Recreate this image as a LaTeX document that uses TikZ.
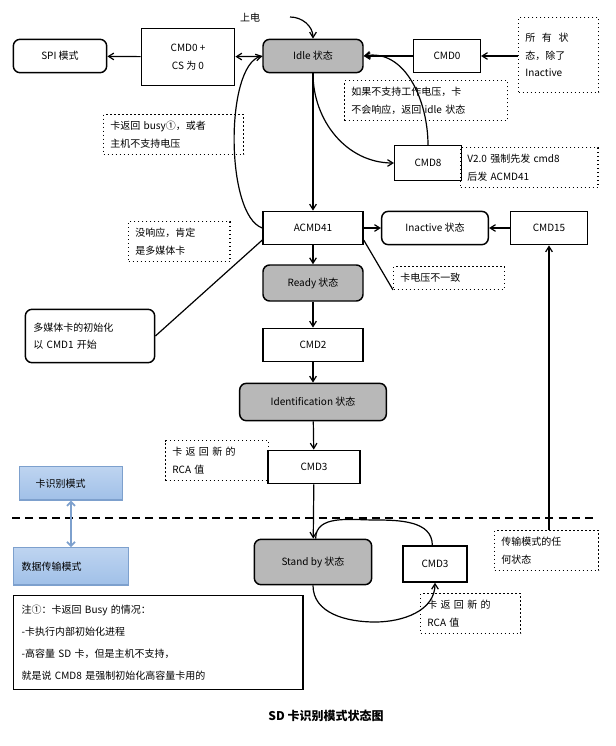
\documentclass[tikz,border=0pt]{standalone}
\usepackage{fontspec}
\setmainfont{Noto Sans CJK SC}
\usetikzlibrary{arrows.meta}
\definecolor{bfill}{RGB}{190,212,240}
\definecolor{bfill2}{RGB}{160,192,232}
\definecolor{bdraw}{RGB}{125,160,205}
\begin{document}
\begin{tikzpicture}[x=0.75pt,y=-0.75pt,font=\fontsize{7.5}{13}\selectfont,
  >={Straight Barb[length=4pt,width=5pt]},
  box/.style={draw,line width=1.1pt,inner sep=0,align=center},
  st/.style={box,rounded corners=5pt},
  gray/.style={st,fill=black!28},
  note/.style={draw,dotted,line width=1pt,inner sep=5pt,align=left,anchor=north west},
  blue/.style={draw=bdraw,line width=1pt,top color=bfill,bottom color=bfill2,inner xsep=6pt,inner ysep=0,anchor=north west,align=left},
  ln/.style={line width=0.9pt}]
\useasboundingbox (0,0) rectangle (615,746);
\node (pw) at (250,18) {上电};
\coordinate (pws) at (290,17);
\node[st,minimum width=70pt,minimum height=25pt] (spi) at (60,56) {SPI 模式};
\node[box,minimum width=70pt,minimum height=43pt] (cs) at (188,57) {CMD0 +\\CS 为 0};
\node[gray,minimum width=75pt,minimum height=25pt] (idle) at (313,56) {Idle 状态};
\node[box,minimum width=50pt,minimum height=25pt] (c0) at (447,56) {CMD0};
\node[note,text width=50pt,minimum height=56pt] (n1) at (518,17) {所\ \ 有\ \ 状\\态，除了\\Inactive};
\node[note,text width=112pt] (n2) at (344,80) {如果不支持工作电压，卡\\不会响应，返回 idle 状态};
\node[note,text width=95pt] (n3) at (103,114) {卡返回 busy①，或者\\主机不支持电压};
\node[box,minimum width=50pt,minimum height=26pt] (c8) at (428,163) {CMD8};
\node[note,text width=93pt] (n4) at (460,147) {V2.0 强制先发 cmd8\\后发 ACMD41};
\node[box,minimum width=75pt,minimum height=25pt] (a41) at (313,228) {ACMD41};
\node[st,minimum width=80pt,minimum height=25pt] (ina) at (435,228) {Inactive 状态};
\node[box,minimum width=58pt,minimum height=25pt] (c15) at (549,228) {CMD15};
\node[note,text width=66pt] (n5) at (128,221) {没响应，肯定\\是多媒体卡};
\node[note,text width=73pt] (n6) at (393,266) {卡电压不一致};
\node[gray,minimum width=75pt,minimum height=27pt] (rdy) at (313,283) {Ready 状态};
\node[st,minimum width=97pt,minimum height=40pt,text width=85pt,align=left] (mm) at (90,336) {多媒体卡的初始化\\以 CMD1 开始};
\node[box,minimum width=75pt,minimum height=25pt] (c2) at (313,345) {CMD2};
\node[gray,minimum width=110pt,minimum height=28pt] (idf) at (313,402) {Identification 状态};
\node[note,text width=67pt] (n7) at (165,440) {卡\ 返\ 回\ 新\ 的\\RCA 值};
\node[box,minimum width=69pt,minimum height=25pt] (c3) at (314,467) {CMD3};
\node[blue,text width=65pt,minimum height=25pt] (b1) at (19,466) {\hspace{6pt}卡识别模式};
\node[blue,text width=74pt,minimum height=28pt] (b2) at (13,547) {数据传输模式};
\draw[line width=1pt,dash pattern=on 6pt off 4pt] (12,518) -- (598,518);
\draw[{Straight Barb[length=3pt]}-{Straight Barb[length=3pt]},bdraw,line width=1.3pt] (b1.south -| 71,0) -- (b2.north -| 71,0);
\node[gray,minimum width=88pt,minimum height=34pt] (sb) at (313,562) {Stand by 状态};
\node[box,minimum width=48pt,minimum height=27pt] (c3b) at (435,564) {CMD3};
\node[note,text width=68pt] (n8) at (494,530) {传输模式的任\\何状态};
\node[note,text width=65pt] (n9) at (420,593) {卡\ 返\ 回\ 新\ 的\\RCA 值};
\node[draw,line width=1pt,anchor=north west,text width=205pt,align=left,inner xsep=6pt,inner ysep=7pt,font=\fontsize{7.5}{16.5}\selectfont] (nb) at (13,595) {注①：卡返回 Busy 的情况：\\-卡执行内部初始化进程\\-高容量 SD 卡，但是主机不支持，\\就是说 CMD8 是强制初始化高容量卡用的};
\node[font=\bfseries\fontsize{9}{11}\selectfont] (cap) at (326,716) {SD 卡识别模式状态图};
% connectors
\draw[ln,->] (pws) to[out=0,in=90] (idle.north);
\draw[ln,->] (cs) -- (spi);
\draw[ln,->] (idle) -- (cs);
\draw[ln,->] (c0) -- (idle);
\draw[ln,->] (n1.west |- c0) -- (c0);
\draw[ln,->] (idle) -- (a41);
\draw[ln,->] (idle.south) to[out=-90,in=180] (c8.west);
\draw[ln,->] (c8.north) to[out=90,in=10] (idle.east);
\draw[ln,->] (a41.west) .. controls (225,215) and (225,65) .. (idle.west);
\draw[ln,->] (a41) -- (ina);
\draw[ln,->] (c15) -- (ina);
\draw[ln] ([yshift=4pt]a41.south east) -- (n6.south west);
\draw[ln] ([yshift=4pt]a41.south west) -- (mm.east);
\draw[ln,->] (a41) -- (rdy);
\draw[ln,->] (rdy) -- (c2);
\draw[ln,->] (c2) -- (idf);
\draw[ln,->] (idf) -- (c3);
\draw[ln,->] (c3) -- (sb);
\draw[ln,->] (n8.north -| c15) -- (c15);
\draw[ln] ([xshift=2pt]sb.north) to[out=90,in=180] (375,520) to[out=0,in=90] ([xshift=-2pt]c3b.north);
\draw[ln,->] (sb.south) to[out=-90,in=180] (375,622) to[out=0,in=-90] (c3b.south);
\end{tikzpicture}
\end{document}
